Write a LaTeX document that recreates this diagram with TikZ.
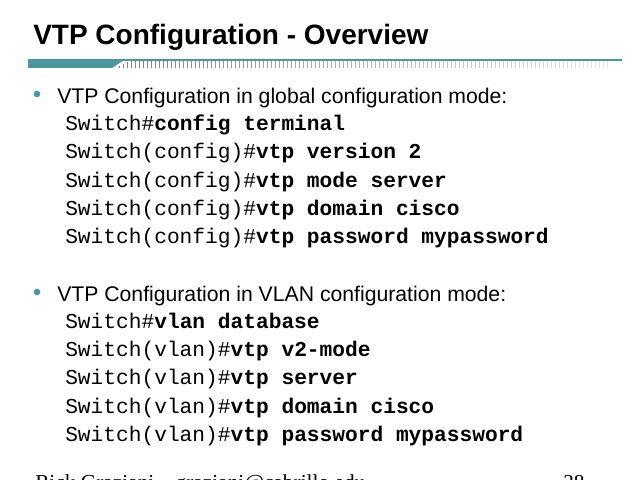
\documentclass[tikz,border=0pt]{standalone}
\usepackage{fontspec}
\setmainfont{Liberation Sans}
\newfontfamily\codefont{Liberation Mono}
\newfontfamily\footfont{Liberation Serif}
\usetikzlibrary{positioning}
\definecolor{barteal}{RGB}{78,150,158}

\tikzset{
  bodytext/.style={anchor=base west, inner sep=0pt, font=\fontsize{15.9pt}{18pt}\selectfont},
  codeline/.style={anchor=base west, inner sep=0pt, font=\codefont\fontsize{15.9pt}{18pt}\selectfont},
  bulletdot/.style={circle, fill=barteal, inner sep=0pt, minimum size=5pt}
}

\begin{document}
\begin{tikzpicture}[x=0.75pt, y=-0.75pt]
\useasboundingbox (0,0) rectangle (638,479);
%title
\node[anchor=base west, inner sep=0pt, font=\bfseries\fontsize{21pt}{24pt}\selectfont] (title) at (33,44) {VTP Configuration - Overview};
%bar
\fill[barteal] (28,60) rectangle (112,68);
\fill[barteal] (112,68) -- (112,60) -- (124,60) -- cycle;
\draw[barteal, line width=1pt] (28,60) -- (622,60);
\foreach \i in {0,...,123} {
  \pgfmathsetmacro{\op}{1-0.8*\i/123}
  \draw[barteal, opacity=\op, line width=0.6pt] ({115+4*\i},{max(60,68-(\i)*2)}) -- ({115+4*\i},68);
}
%first block
\node[bulletdot] (b1) at (37,94) {};
\node[bodytext] (t1) at (57,103) {VTP Configuration in global configuration mode:};
\node[codeline] (c1) at (65,130) {Switch\#\textbf{config terminal}};
\node[codeline] (c2) at (65,158) {Switch(config)\#\textbf{vtp version 2}};
\node[codeline] (c3) at (65,187) {Switch(config)\#\textbf{vtp mode server}};
\node[codeline] (c4) at (65,215) {Switch(config)\#\textbf{vtp domain cisco}};
\node[codeline] (c5) at (65,243) {Switch(config)\#\textbf{vtp password mypassword}};
%second block
\node[bulletdot] (b2) at (37,292) {};
\node[bodytext] (t2) at (57,301) {VTP Configuration in VLAN configuration mode:};
\node[codeline] (d1) at (65,328) {Switch\#\textbf{vlan database}};
\node[codeline] (d2) at (65,356) {Switch(vlan)\#\textbf{vtp v2-mode}};
\node[codeline] (d3) at (65,384) {Switch(vlan)\#\textbf{vtp server}};
\node[codeline] (d4) at (65,413) {Switch(vlan)\#\textbf{vtp domain cisco}};
\node[codeline] (d5) at (65,441) {Switch(vlan)\#\textbf{vtp password mypassword}};
%footer
\node[anchor=base west, inner sep=0pt, font=\footfont\fontsize{16pt}{18pt}\selectfont] (foot) at (35,489) {Rick Graziani\quad graziani@cabrillo.edu};
\node[anchor=base west, inner sep=0pt, font=\footfont\fontsize{16pt}{18pt}\selectfont] (page) at (563,489) {38};
\end{tikzpicture}
\end{document}
